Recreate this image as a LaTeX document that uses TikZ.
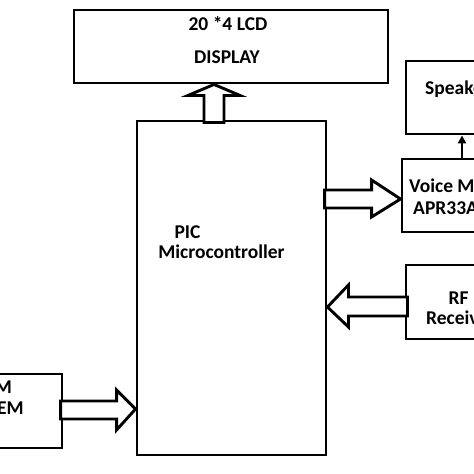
\documentclass[tikz,border=0pt]{standalone}
\usepackage{fontspec}
\setmainfont{Carlito}
\usetikzlibrary{arrows.meta}

\begin{document}
\begin{tikzpicture}[x=1pt,y=-1pt,
	blok/.style={draw, line width=2.9pt, inner sep=0pt},
	lbl/.style={font=\fontsize{19.5}{22}\selectfont\bfseries, inner sep=0pt, text height=12.6pt, text depth=0pt},
	fat/.style={draw, line width=2.9pt, fill=white, line join=miter}]
		\clip (0,0) rectangle (474,474) ;
		\node[blok, minimum width=314pt, minimum height=73pt] (lcd) at (231,46.5) {} ;
		\node[blok, minimum width=189pt, minimum height=334pt] (pic) at (231.5,288) {} ;
		\node[blok, minimum width=112pt, minimum height=73pt] (spk) at (462,97.5) {} ;
		\node[blok, minimum width=120pt, minimum height=73pt] (voice) at (462,195.5) {} ;
		\node[blok, minimum width=112pt, minimum height=74pt] (rf) at (462,302) {} ;
		\node[blok, minimum width=144pt, minimum height=74pt] (gsm) at (-10,411) {} ;
		\node[lbl] (lcdA) at (228,24) {20 *4 LCD} ;
		\node[lbl] (lcdB) at (227,57) {DISPLAY} ;
		\node[lbl] (picA) at (187.5,232) {PIC} ;
		\node[lbl] (picB) at (221.5,252) {Microcontroller} ;
		\node[lbl, anchor=west] (spkA) at (425,88) {Speaker} ;
		\node[lbl, anchor=west] (voiceA) at (409,186) {Voice Module} ;
		\node[lbl, anchor=west] (voiceB) at (413,208) {APR33A3} ;
		\node[lbl] (rfA) at (458.5,298) {RF} ;
		\node[lbl, anchor=west] (rfB) at (426,318) {Receiver} ;
		\node[lbl, anchor=east] (gsmA) at (12,387) {GSM} ;
		\node[lbl, anchor=east] (gsmB) at (24,408) {MODEM} ;
		\draw[fat] ([xshift=-17pt]lcd.south) -- ++(26,11) -- ++(-16,0) -- ++(0,27) -- ++(-20,0) -- ++(0,-27) -- ++(-16,0) -- cycle ;
		\draw[fat] ([yshift=-3.5pt]voice.west) -- ++(-29,-19) -- ++(0,10) -- ++(-47,0) -- ++(0,18) -- ++(47,0) -- ++(0,9) -- cycle ;
		\draw[fat] ([yshift=-19pt]pic.east) -- ++(21,-22) -- ++(0,12) -- ++(59,0) -- ++(0,19) -- ++(-59,0) -- ++(0,11) -- cycle ;
		\draw[fat] ([yshift=-121pt]pic.west) -- ++(-19,-19) -- ++(0,11) -- ++(-56,0) -- ++(0,18) -- ++(56,0) -- ++(0,11) -- cycle ;
		\draw[line width=2.5pt, -{Triangle[length=8pt, width=8pt]}] (voice.north) -- (spk.south) ;
	\end{tikzpicture}
\end{document}
